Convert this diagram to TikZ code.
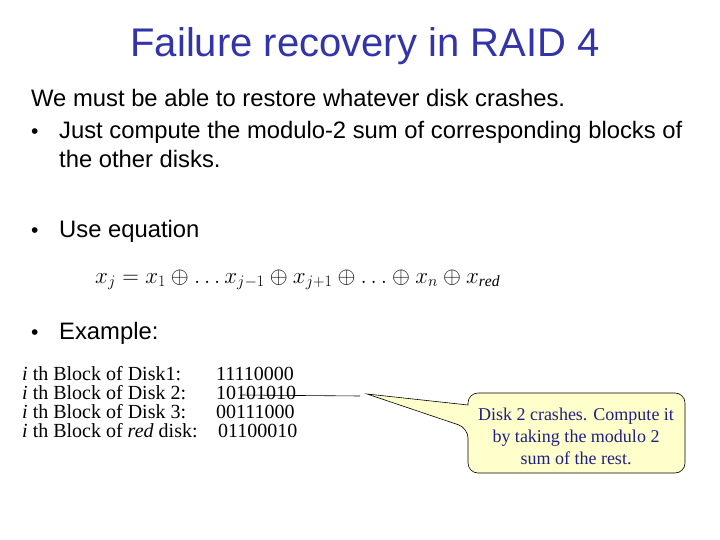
\documentclass[tikz,border=0pt]{standalone}
\usepackage{fontspec}
\setmainfont{Liberation Serif}
\newfontfamily\arial{Liberation Sans}
\usepackage{amsmath}
\usetikzlibrary{positioning}
\definecolor{ttl}{HTML}{3333AA}
\definecolor{callfill}{HTML}{FFFFCC}
\definecolor{calltext}{HTML}{202080}
\tikzset{
  body/.style={anchor=base west,inner sep=0pt,font=\arial\fontsize{23.8}{28}\selectfont},
  bul/.style={anchor=base west,inner sep=0pt,font=\arial\fontsize{21}{24}\selectfont},
  blk/.style={anchor=base west,inner sep=0pt,font=\fontsize{20}{22}\selectfont},
}
\begin{document}
\begin{tikzpicture}[x=1pt,y=-1pt]
\useasboundingbox (0,0) rectangle (720,540);
\node[anchor=base,inner sep=0pt,text=ttl,font=\arial\fontsize{40}{46}\selectfont] (title) at (365,57) {Failure recovery in RAID 4};
\node[body] (l1) at (31,107) {We must be able to restore whatever disk crashes.};
\node[bul] (b1) at (31,139) {•};
\node[body] (l2) at (59,139) {Just compute the modulo-2 sum of corresponding blocks of};
\node[body] (l3) at (59,168) {the other disks.};
\node[bul] (b2) at (31,237) {•};
\node[body] (l4) at (59,237) {Use equation};
\node[anchor=base west,inner sep=0pt,font=\fontsize{24}{26}\selectfont] (eq) at (95,283)
 {\scalebox{0.926}{$x_j = x_1 \oplus \ldots x_{j-1} \oplus x_{j+1} \oplus \ldots \oplus x_n \oplus x_{\mathit{red}}$}};
\node[bul] (b3) at (31,339) {•};
\node[body] (l5) at (59,339) {Example:};
\node[blk] (d1) at (22,380) {\textit{i} th Block of Disk1:};
\node[blk] (d2) at (22,399) {\textit{i} th Block of Disk 2:};
\node[blk] (d3) at (22,418) {\textit{i} th Block of Disk 3:};
\node[blk] (d4) at (22,437) {\textit{i} th Block of \textit{red} disk:};
\node[blk] (n1) at (216,380) {11110000};
\node[blk] (n2) at (216,399) {10101010};
\node[blk] (n3) at (216,418) {00111000};
\node[blk] (n4) at (218,437) {01100010};
\coordinate (le) at (360,396);
\draw[line width=0.6pt] (240,395) -- (le);
\coordinate (tip) at (367,394);
\draw[fill=callfill,draw=black,line width=0.6pt,rounded corners=10pt]
  (468,393) -- (685,393) -- (685,473) -- (468,473) -- (468,428) [sharp corners] -- (tip) -- (468,405) [rounded corners=10pt] -- cycle;
\node[align=center,text=calltext,font=\fontsize{18}{22}\selectfont,inner sep=0pt] (call) at (576,436)
 {Disk 2 crashes. Compute it\\by taking the modulo 2\\sum of the rest.};
\end{tikzpicture}
\end{document}
